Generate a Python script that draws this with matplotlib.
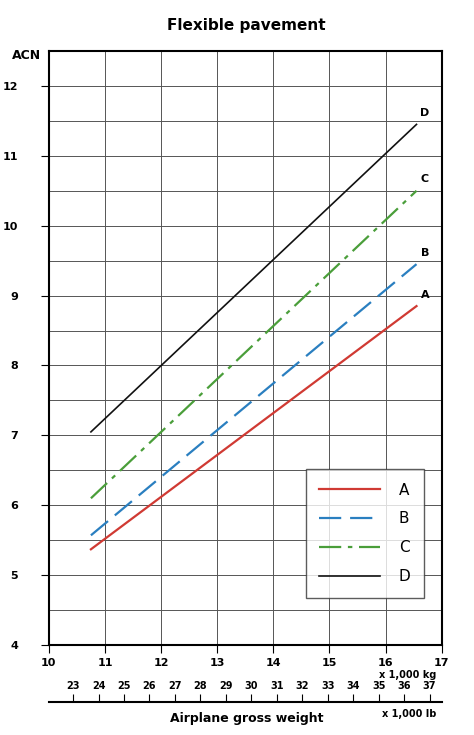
import matplotlib
matplotlib.use("Agg")
import matplotlib.pyplot as plt
from matplotlib.lines import Line2D

series = ["A", "B", "C", "D"]
x_kg = [10.75, 16.55]
acn_A = [5.37, 8.85]
acn_B = [5.57, 9.45]
acn_C = [6.10, 10.50]
acn_D = [7.05, 11.45]
lb_ticks = [23, 24, 25, 26, 27, 28, 29, 30, 31, 32, 33, 34, 35, 36, 37]

colors = {"A": "#d03a33", "B": "#2a7fc0", "C": "#4a9e3a", "D": "#111111"}
styles = {"A": "-", "B": (0, (10, 4)), "C": (0, (10, 3, 2, 3)), "D": "-"}
widths = {"A": 1.6, "B": 1.6, "C": 1.6, "D": 1.2}
vals = {"A": acn_A, "B": acn_B, "C": acn_C, "D": acn_D}

plt.rcParams['font.family'] = ['DejaVu Sans']
fig = plt.figure(figsize=(4.74, 7.35), dpi=100)
ax = fig.add_axes([0.103, 0.1224, 0.829, 0.8082])
ax.set_xlim(10, 17)
ax.set_ylim(4, 12.5)
ax.set_xticks(range(10, 18))
ax.set_yticks(range(4, 13))
ax.set_yticks([v + 0.5 for v in range(4, 12)], minor=True)
ax.grid(True, which='both', color='#555555', lw=0.7)
for s in ax.spines.values():
    s.set_linewidth(1.5)
ax.tick_params(axis='both', which='major', labelsize=8, length=6, width=0.8)
ax.tick_params(axis='y', which='minor', length=0)
ax.tick_params(axis='y', pad=16)
for lbl in ax.get_xticklabels() + ax.get_yticklabels():
    lbl.set_fontweight('bold')

handles = []
for s in series:
    ax.plot(x_kg, vals[s], color=colors[s], ls=styles[s], lw=widths[s])
    ax.text(x_kg[1] + 0.15, vals[s][1] + 0.12, s, fontsize=8, fontweight='bold', ha='center')
    handles.append(Line2D([], [], color=colors[s], ls=styles[s], lw=widths[s]))

leg = ax.legend(handles, series, loc='lower right', bbox_to_anchor=(0.975, 0.067),
                fontsize=11, frameon=True, fancybox=False, edgecolor='#333333',
                handlelength=4.0, labelspacing=0.9, borderpad=0.9, handletextpad=1.2)
leg.get_frame().set_linewidth(1.0)

fig.text(0.52, 0.965, "Flexible pavement", ha='center', va='center', fontsize=11, fontweight='bold')
fig.text(0.025, 0.925, "ACN", ha='left', va='center', fontsize=9, fontweight='bold')
fig.text(0.92, 0.081, "x 1,000 kg", ha='right', va='center', fontsize=7, fontweight='bold')

# secondary lb axis
ax2 = fig.add_axes([0.103, 0.0449, 0.829, 0.0001])
ax2.set_xlim(10, 17)
ax2.set_yticks([])
for k in ['top', 'left', 'right']:
    ax2.spines[k].set_visible(False)
ax2.spines['bottom'].set_linewidth(1.5)
ax2.set_xticks([v * 0.45359237 for v in lb_ticks])
ax2.set_xticklabels([str(v) for v in lb_ticks])
ax2.tick_params(axis='x', bottom=True, top=False, labelbottom=False, labeltop=True,
                direction='in', length=6, labelsize=7, pad=8)
for lbl in ax2.get_xticklabels():
    lbl.set_fontweight('bold')
fig.text(0.92, 0.028, "x 1,000 lb", ha='right', va='center', fontsize=7, fontweight='bold')
fig.text(0.52, 0.023, "Airplane gross weight", ha='center', va='center', fontsize=9, fontweight='bold')

fig.savefig("out.png", dpi=100)
